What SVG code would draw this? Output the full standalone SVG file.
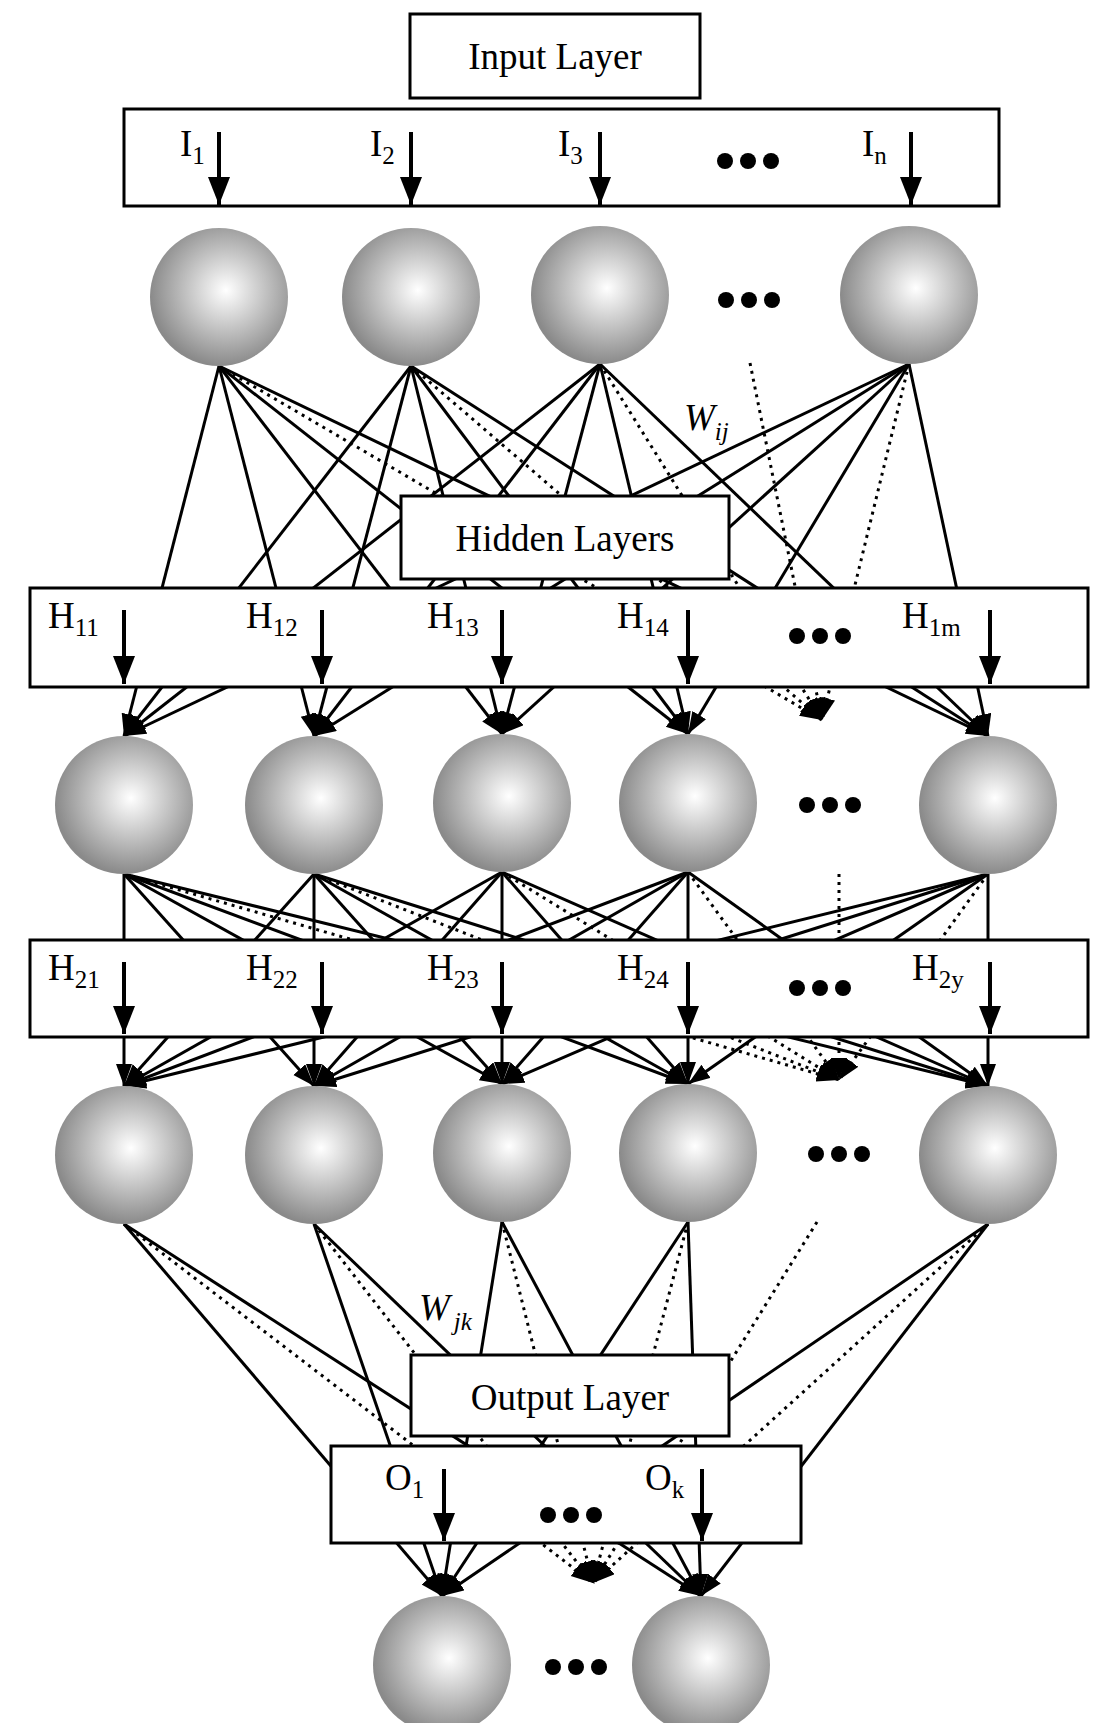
<svg xmlns="http://www.w3.org/2000/svg" width="1104" height="1723" viewBox="0 0 1104 1723">
<style>
.t{font-family:"Liberation Serif","Times New Roman",serif;font-size:37px;fill:#000}
.s{font-size:25px}
.box{fill:#fff;stroke:#000;stroke-width:3}
.c line{stroke:#000;stroke-width:3;marker-end:url(#ah)}
.d line{stroke:#000;stroke-width:3;stroke-dasharray:3 5;marker-end:url(#ah)}
.in{stroke:#000;stroke-width:4;marker-end:url(#big)}
.n{fill:url(#g)}
</style>
<defs>
<radialGradient id="g" cx="0.55" cy="0.45" r="0.55"><stop offset="0" stop-color="#fff"/><stop offset="1" stop-color="#8a8a8a"/></radialGradient>
<marker id="ah" markerUnits="userSpaceOnUse" markerWidth="24" markerHeight="18" refX="22" refY="8" orient="auto"><path d="M0,0L22,8L0,16z"/></marker>
<marker id="big" markerUnits="userSpaceOnUse" markerWidth="30" markerHeight="24" refX="28" refY="11" orient="auto"><path d="M0,0L28,11L0,22z"/></marker>
</defs>
<g id="connectors">
<g class="c">
<line x1="219" y1="366" x2="124" y2="736"/><line x1="219" y1="366" x2="314" y2="736"/><line x1="219" y1="366" x2="502" y2="734"/><line x1="219" y1="366" x2="688" y2="734"/><line x1="219" y1="366" x2="988" y2="736"/>
<line x1="411" y1="366" x2="124" y2="736"/><line x1="411" y1="366" x2="314" y2="736"/><line x1="411" y1="366" x2="502" y2="734"/><line x1="411" y1="366" x2="688" y2="734"/><line x1="411" y1="366" x2="988" y2="736"/>
<line x1="600" y1="364" x2="124" y2="736"/><line x1="600" y1="364" x2="314" y2="736"/><line x1="600" y1="364" x2="502" y2="734"/><line x1="600" y1="364" x2="688" y2="734"/><line x1="600" y1="364" x2="988" y2="736"/>
<line x1="909" y1="364" x2="124" y2="736"/><line x1="909" y1="364" x2="314" y2="736"/><line x1="909" y1="364" x2="502" y2="734"/><line x1="909" y1="364" x2="688" y2="734"/><line x1="909" y1="364" x2="988" y2="736"/>
<line x1="124" y1="874" x2="124" y2="1086"/><line x1="124" y1="874" x2="314" y2="1086"/><line x1="124" y1="874" x2="502" y2="1084"/><line x1="124" y1="874" x2="688" y2="1084"/><line x1="124" y1="874" x2="988" y2="1086"/>
<line x1="314" y1="874" x2="124" y2="1086"/><line x1="314" y1="874" x2="314" y2="1086"/><line x1="314" y1="874" x2="502" y2="1084"/><line x1="314" y1="874" x2="688" y2="1084"/><line x1="314" y1="874" x2="988" y2="1086"/>
<line x1="502" y1="872" x2="124" y2="1086"/><line x1="502" y1="872" x2="314" y2="1086"/><line x1="502" y1="872" x2="502" y2="1084"/><line x1="502" y1="872" x2="688" y2="1084"/><line x1="502" y1="872" x2="988" y2="1086"/>
<line x1="688" y1="872" x2="124" y2="1086"/><line x1="688" y1="872" x2="314" y2="1086"/><line x1="688" y1="872" x2="502" y2="1084"/><line x1="688" y1="872" x2="688" y2="1084"/><line x1="688" y1="872" x2="988" y2="1086"/>
<line x1="988" y1="874" x2="124" y2="1086"/><line x1="988" y1="874" x2="314" y2="1086"/><line x1="988" y1="874" x2="502" y2="1084"/><line x1="988" y1="874" x2="688" y2="1084"/><line x1="988" y1="874" x2="988" y2="1086"/>
<line x1="124" y1="1224" x2="442" y2="1596"/><line x1="124" y1="1224" x2="701" y2="1596"/><line x1="314" y1="1224" x2="442" y2="1596"/><line x1="314" y1="1224" x2="701" y2="1596"/><line x1="502" y1="1222" x2="442" y2="1596"/><line x1="502" y1="1222" x2="701" y2="1596"/><line x1="688" y1="1222" x2="442" y2="1596"/><line x1="688" y1="1222" x2="701" y2="1596"/><line x1="988" y1="1224" x2="442" y2="1596"/><line x1="988" y1="1224" x2="701" y2="1596"/>
</g>
<g class="d">
<line x1="219" y1="366" x2="822" y2="720"/><line x1="411" y1="366" x2="822" y2="720"/><line x1="600" y1="364" x2="822" y2="720"/><line x1="909" y1="364" x2="822" y2="720"/><line x1="750" y1="363" x2="822" y2="720"/>
<line x1="124" y1="874" x2="839" y2="1080"/><line x1="314" y1="874" x2="839" y2="1080"/><line x1="502" y1="872" x2="839" y2="1080"/><line x1="688" y1="872" x2="839" y2="1080"/><line x1="988" y1="874" x2="839" y2="1080"/><line x1="839" y1="874" x2="839" y2="1080"/>
<line x1="124" y1="1224" x2="593" y2="1583"/><line x1="314" y1="1224" x2="593" y2="1583"/><line x1="502" y1="1222" x2="593" y2="1583"/><line x1="688" y1="1222" x2="593" y2="1583"/><line x1="988" y1="1224" x2="593" y2="1583"/><line x1="817" y1="1222" x2="593" y2="1583"/>
</g>
</g>
<g id="input-title"><rect class="box" x="410" y="14" width="290" height="84"/><text class="t" x="555" y="69" text-anchor="middle">Input Layer</text></g>
<g id="input-row"><rect class="box" x="124" y="109" width="875" height="97"/>
<text class="t" x="180" y="156">I<tspan class="s" dy="8">1</tspan></text>
<text class="t" x="370" y="156">I<tspan class="s" dy="8">2</tspan></text>
<text class="t" x="558" y="156">I<tspan class="s" dy="8">3</tspan></text>
<text class="t" x="862" y="156">I<tspan class="s" dy="8">n</tspan></text>
<line class="in" x1="219" y1="132" x2="219" y2="205"/><line class="in" x1="411" y1="132" x2="411" y2="205"/><line class="in" x1="600" y1="132" x2="600" y2="205"/><line class="in" x1="911" y1="132" x2="911" y2="205"/>
<circle cx="725" cy="161" r="8"/><circle cx="748" cy="161" r="8"/><circle cx="771" cy="161" r="8"/></g>
<g id="input-nodes"><circle class="n" cx="219" cy="297" r="69"/><circle class="n" cx="411" cy="297" r="69"/><circle class="n" cx="600" cy="295" r="69"/><circle class="n" cx="909" cy="295" r="69"/>
<circle cx="726" cy="300" r="8"/><circle cx="749" cy="300" r="8"/><circle cx="772" cy="300" r="8"/></g>
<g id="wij"><text class="t" x="684" y="430" font-style="italic">W<tspan class="s" dy="10">ij</tspan></text></g>
<g id="hidden-title"><rect class="box" x="401" y="496" width="328" height="83"/><text class="t" x="565" y="551" text-anchor="middle">Hidden Layers</text></g>
<g id="h1-row"><rect class="box" x="30" y="588" width="1058" height="99"/>
<text class="t" x="48" y="628">H<tspan class="s" dy="8">11</tspan></text>
<text class="t" x="246" y="628">H<tspan class="s" dy="8">12</tspan></text>
<text class="t" x="427" y="628">H<tspan class="s" dy="8">13</tspan></text>
<text class="t" x="617" y="628">H<tspan class="s" dy="8">14</tspan></text>
<text class="t" x="902" y="628">H<tspan class="s" dy="8">1m</tspan></text>
<line class="in" x1="124" y1="610" x2="124" y2="684"/><line class="in" x1="322" y1="610" x2="322" y2="684"/><line class="in" x1="502" y1="610" x2="502" y2="684"/><line class="in" x1="688" y1="610" x2="688" y2="684"/><line class="in" x1="990" y1="610" x2="990" y2="684"/>
<circle cx="797" cy="636" r="8"/><circle cx="820" cy="636" r="8"/><circle cx="843" cy="636" r="8"/></g>
<g id="h1-nodes"><circle class="n" cx="124" cy="805" r="69"/><circle class="n" cx="314" cy="805" r="69"/><circle class="n" cx="502" cy="803" r="69"/><circle class="n" cx="688" cy="803" r="69"/><circle class="n" cx="988" cy="805" r="69"/>
<circle cx="807" cy="805" r="8"/><circle cx="830" cy="805" r="8"/><circle cx="853" cy="805" r="8"/></g>
<g id="h2-row"><rect class="box" x="30" y="940" width="1058" height="97"/>
<text class="t" x="48" y="980">H<tspan class="s" dy="8">21</tspan></text>
<text class="t" x="246" y="980">H<tspan class="s" dy="8">22</tspan></text>
<text class="t" x="427" y="980">H<tspan class="s" dy="8">23</tspan></text>
<text class="t" x="617" y="980">H<tspan class="s" dy="8">24</tspan></text>
<text class="t" x="912" y="980">H<tspan class="s" dy="8">2y</tspan></text>
<line class="in" x1="124" y1="962" x2="124" y2="1034"/><line class="in" x1="322" y1="962" x2="322" y2="1034"/><line class="in" x1="502" y1="962" x2="502" y2="1034"/><line class="in" x1="688" y1="962" x2="688" y2="1034"/><line class="in" x1="990" y1="962" x2="990" y2="1034"/>
<circle cx="797" cy="988" r="8"/><circle cx="820" cy="988" r="8"/><circle cx="843" cy="988" r="8"/></g>
<g id="h2-nodes"><circle class="n" cx="124" cy="1155" r="69"/><circle class="n" cx="314" cy="1155" r="69"/><circle class="n" cx="502" cy="1153" r="69"/><circle class="n" cx="688" cy="1153" r="69"/><circle class="n" cx="988" cy="1155" r="69"/>
<circle cx="816" cy="1154" r="8"/><circle cx="839" cy="1154" r="8"/><circle cx="862" cy="1154" r="8"/></g>
<g id="wjk"><text class="t" x="419" y="1320" font-style="italic">W<tspan class="s" dx="4" dy="10">jk</tspan></text></g>
<g id="output-title"><rect class="box" x="411" y="1355" width="318" height="81"/><text class="t" x="570" y="1410" text-anchor="middle">Output Layer</text></g>
<g id="o-row"><rect class="box" x="331" y="1446" width="470" height="97"/>
<text class="t" x="385" y="1490">O<tspan class="s" dy="8">1</tspan></text>
<text class="t" x="645" y="1490">O<tspan class="s" dy="8">k</tspan></text>
<line class="in" x1="444" y1="1469" x2="444" y2="1541"/><line class="in" x1="702" y1="1469" x2="702" y2="1541"/>
<circle cx="548" cy="1515" r="8"/><circle cx="571" cy="1515" r="8"/><circle cx="594" cy="1515" r="8"/></g>
<g id="output-nodes"><circle class="n" cx="442" cy="1665" r="69"/><circle class="n" cx="701" cy="1665" r="69"/>
<circle cx="553" cy="1667" r="8"/><circle cx="576" cy="1667" r="8"/><circle cx="599" cy="1667" r="8"/></g>
</svg>
